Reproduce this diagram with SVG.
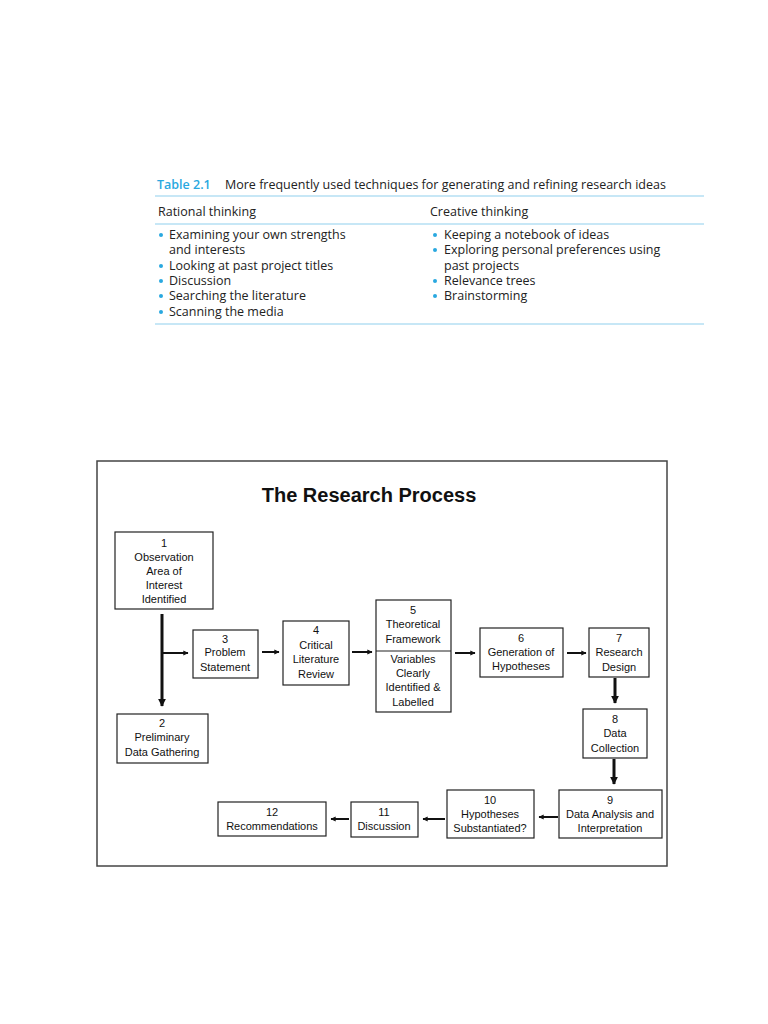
<svg xmlns="http://www.w3.org/2000/svg" width="768" height="1024" viewBox="0 0 768 1024">
<style>
.t{font-family:"Open Sans",sans-serif;font-size:12.5px;fill:#222}
.h{font-family:"Open Sans",sans-serif;font-size:12.5px;fill:#222;font-weight:600}
.bl{stroke:#8fd0ee;stroke-width:1.2}
.b{fill:#fff;stroke:#222;stroke-width:1.2}
.n{font-family:"Liberation Sans",Arial,sans-serif;font-size:11px;fill:#111;text-anchor:middle}
.c{stroke:#111;stroke-width:3;fill:none}
.c2{stroke:#111;stroke-width:2;fill:none}
.dot{fill:#29a8e0}
</style>
<defs>
<marker id="a" viewBox="0 0 10 10" refX="9" refY="5" markerWidth="2.6" markerHeight="2.6" orient="auto"><path d="M0,0L10,5L0,10z" fill="#111"/></marker>
</defs>
<rect width="768" height="1024" fill="#fff"/>
<g id="table">
<text x="157" y="189" class="h" style="fill:#29a8e0">Table 2.1</text>
<text x="225" y="189" class="t">More frequently used techniques for generating and refining research ideas</text>
<line x1="155" y1="196" x2="704" y2="196" class="bl"/>
<text x="158" y="216" class="t">Rational thinking</text>
<text x="430" y="216" class="t">Creative thinking</text>
<line x1="155" y1="224" x2="704" y2="224" class="bl"/>
<g class="t">
<text x="169" y="239">Examining your own strengths</text>
<text x="169" y="254">and interests</text>
<text x="169" y="270">Looking at past project titles</text>
<text x="169" y="285">Discussion</text>
<text x="169" y="300">Searching the literature</text>
<text x="169" y="316">Scanning the media</text>
<text x="444" y="239">Keeping a notebook of ideas</text>
<text x="444" y="254">Exploring personal preferences using</text>
<text x="444" y="270">past projects</text>
<text x="444" y="285">Relevance trees</text>
<text x="444" y="300">Brainstorming</text>
</g>
<g class="dot">
<circle cx="161" cy="235" r="2"/><circle cx="161" cy="266" r="2"/><circle cx="161" cy="281" r="2"/><circle cx="161" cy="296" r="2"/><circle cx="161" cy="312" r="2"/>
<circle cx="435" cy="235" r="2"/><circle cx="435" cy="250" r="2"/><circle cx="435" cy="281" r="2"/><circle cx="435" cy="296" r="2"/>
</g>
<line x1="155" y1="324" x2="704" y2="324" class="bl" stroke-width="2"/>
</g>
<rect x="97" y="461" width="570" height="405" fill="#fff" stroke="#444" stroke-width="1.5"/>
<text x="369" y="502" font-family="Liberation Sans,Arial,sans-serif" font-size="20" font-weight="bold" text-anchor="middle" fill="#111">The Research Process</text>
<g id="connectors">
<path class="c" d="M162,614V706" marker-end="url(#a)"/>
<path class="c2" d="M163,653H188" marker-end="url(#a)"/>
<path class="c2" d="M262,652H279" marker-end="url(#a)"/>
<path class="c2" d="M352,652H372" marker-end="url(#a)"/>
<path class="c2" d="M455,653H475" marker-end="url(#a)"/>
<path class="c2" d="M567,653H586" marker-end="url(#a)"/>
<path class="c" d="M615,678V703" marker-end="url(#a)"/>
<path class="c" d="M614,759V784" marker-end="url(#a)"/>
<path class="c2" d="M558,817H539" marker-end="url(#a)"/>
<path class="c2" d="M445,819H423" marker-end="url(#a)"/>
<path class="c2" d="M349,819H331" marker-end="url(#a)"/>
</g>
<g id="n1"><rect class="b" x="115" y="532" width="98" height="77"/><text class="n" x="164" y="547">1</text><text class="n" x="164" y="561">Observation</text><text class="n" x="164" y="575">Area of</text><text class="n" x="164" y="589">Interest</text><text class="n" x="164" y="603">Identified</text></g>
<g id="n2"><rect class="b" x="117" y="714" width="91" height="49"/><text class="n" x="162" y="727">2</text><text class="n" x="162" y="741">Preliminary</text><text class="n" x="162" y="756">Data Gathering</text></g>
<g id="n3"><rect class="b" x="193" y="630" width="65" height="48"/><text class="n" x="225" y="643">3</text><text class="n" x="225" y="656">Problem</text><text class="n" x="225" y="671">Statement</text></g>
<g id="n4"><rect class="b" x="283" y="621" width="66" height="64"/><text class="n" x="316" y="634">4</text><text class="n" x="316" y="649">Critical</text><text class="n" x="316" y="663">Literature</text><text class="n" x="316" y="678">Review</text></g>
<g id="n5"><rect class="b" x="376" y="600" width="75" height="112"/><line x1="376" y1="651" x2="451" y2="651" stroke="#222" stroke-width="1.2"/><text class="n" x="413" y="614">5</text><text class="n" x="413" y="628">Theoretical</text><text class="n" x="413" y="643">Framework</text><text class="n" x="413" y="663">Variables</text><text class="n" x="413" y="677">Clearly</text><text class="n" x="413" y="691">Identified &amp;</text><text class="n" x="413" y="706">Labelled</text></g>
<g id="n6"><rect class="b" x="480" y="628" width="83" height="49"/><text class="n" x="521" y="642">6</text><text class="n" x="521" y="656">Generation of</text><text class="n" x="521" y="670">Hypotheses</text></g>
<g id="n7"><rect class="b" x="589" y="628" width="60" height="49"/><text class="n" x="619" y="642">7</text><text class="n" x="619" y="656">Research</text><text class="n" x="619" y="671">Design</text></g>
<g id="n8"><rect class="b" x="583" y="709" width="64" height="49"/><text class="n" x="615" y="723">8</text><text class="n" x="615" y="737">Data</text><text class="n" x="615" y="752">Collection</text></g>
<g id="n9"><rect class="b" x="559" y="790" width="103" height="48"/><text class="n" x="610" y="804">9</text><text class="n" x="610" y="818">Data Analysis and</text><text class="n" x="610" y="832">Interpretation</text></g>
<g id="n10"><rect class="b" x="447" y="790" width="87" height="48"/><text class="n" x="490" y="804">10</text><text class="n" x="490" y="818">Hypotheses</text><text class="n" x="490" y="832">Substantiated?</text></g>
<g id="n11"><rect class="b" x="351" y="802" width="67" height="35"/><text class="n" x="384" y="816">11</text><text class="n" x="384" y="830">Discussion</text></g>
<g id="n12"><rect class="b" x="218" y="802" width="108" height="34"/><text class="n" x="272" y="816">12</text><text class="n" x="272" y="830">Recommendations</text></g>
</svg>
